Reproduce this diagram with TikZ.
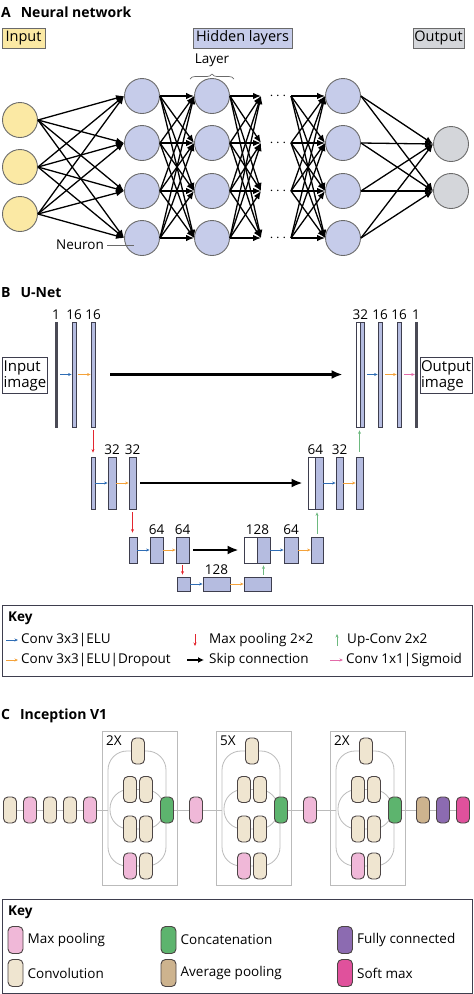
\documentclass[tikz,border=0pt]{standalone}
\usepackage{fontspec}
\setmainfont{Open Sans}
\usepackage{tikz}
\usetikzlibrary{arrows.meta,decorations.pathreplacing,backgrounds}
\definecolor{inyel}{HTML}{FBE9A4}
\definecolor{hidlav}{HTML}{C6CCEA}
\definecolor{outgray}{HTML}{D4D6DA}
\definecolor{ringgray}{HTML}{6A6A6A}
\definecolor{barlav}{HTML}{B5BCE0}
\definecolor{barline}{HTML}{3E3E4E}
\definecolor{bardark}{HTML}{4A4A55}
\definecolor{ablue}{HTML}{2F6DB5}
\definecolor{aorange}{HTML}{F4A23A}
\definecolor{ared}{HTML}{E3262F}
\definecolor{agreen}{HTML}{6DB97F}
\definecolor{apink}{HTML}{E36BA9}
\definecolor{mpink}{HTML}{F0B8D8}
\definecolor{convb}{HTML}{EFE5D0}
\definecolor{ccgreen}{HTML}{5DB46E}
\definecolor{avgb}{HTML}{CDB38E}
\definecolor{fcpur}{HTML}{8C6BB1}
\definecolor{smpink}{HTML}{E0519C}
\definecolor{blkline}{HTML}{4C4545}
\definecolor{modgray}{HTML}{BBBBBB}

\begin{document}
\begin{tikzpicture}[x=1pt,y=-1pt,
    every node/.style={font=\fontsize{13.5}{15}\selectfont},
    head/.style={anchor=west, inner sep=0pt, font=\fontsize{14}{16}\selectfont\bfseries},
    neu/.style={circle, draw=ringgray, line width=0.9pt, minimum size=35pt, inner sep=0pt},
    inp/.style={neu, fill=inyel}, hid/.style={neu, fill=hidlav}, outn/.style={neu, fill=outgray},
    dots/.style={font=\fontsize{15}{15}\selectfont},
    nn/.style={-{Latex[length=8pt,width=6.5pt]}, line width=1.3pt},
    tag/.style={draw=ringgray, line width=0.8pt, minimum height=20pt, inner sep=1pt, font=\fontsize{14.5}{16}\selectfont},
    bar/.style={draw=barline, fill=barlav, line width=0.8pt, inner sep=0pt},
    hole/.style={bar, fill=white},
    thinbar/.style={fill=bardark, draw=bardark, inner sep=0pt, minimum width=2pt},
    num/.style={anchor=south, inner sep=2pt},
    imgbox/.style={draw=barline, line width=0.8pt, minimum height=36pt, inner sep=1pt, align=left, font=\fontsize{15}{16}\selectfont},
    sm/.style={-{Stealth[length=3.5pt,width=3pt]}, line width=0.9pt},
    skip/.style={-{Latex[length=11pt,width=9pt]}, line width=2.4pt},
    keytxt/.style={anchor=west, inner sep=0pt},
    blk/.style={draw=blkline, line width=0.9pt, rounded corners=4.5pt, minimum width=13pt, minimum height=26pt, inner sep=0pt},
    gline/.style={draw=modgray, line width=0.8pt}]
\useasboundingbox (0,0) rectangle (474,994);

% ---------- A: neural network
\node[head] at (1,12) {A\hspace{10pt}Neural network};
\node[tag, fill=inyel, minimum width=43pt] (tin) at (23.5,38) {Input};
\node[tag, fill=hidlav, minimum width=99pt] (thid) at (242.5,38) {Hidden layers};
\node[tag, fill=outgray, minimum width=51pt] (tout) at (438.5,38) {Output};
\node (lay) at (212,60) {Layer};
\draw[ringgray, line width=0.7pt, decorate, decoration={brace, amplitude=5pt}] (190,79) -- (234,79);

\foreach \y [count=\i] in {120,167,214} \node[inp] (i\i) at (20,\y) {};
\foreach \y [count=\i] in {96,143,191,238} {
    \node[hid] (a\i) at (142,\y) {};
    \node[hid] (b\i) at (212,\y) {};
    \node[hid] (c\i) at (343,\y) {};
    \node[dots] (d\i) at (278,\y) {$\cdots$};
    \coordinate (e\i) at (261,\y);
    \coordinate (f\i) at (291,\y);
}
\foreach \y [count=\i] in {144,191} \node[outn] (o\i) at (451,\y) {};

\foreach \i in {1,2,3} \foreach \j in {1,...,4} \draw[nn] (i\i.east) -- (a\j.west);
\foreach \i in {1,...,4} \foreach \j in {1,...,4} {
    \draw[nn] (a\i.east) -- (b\j.west);
    \draw[nn] (b\i.east) -- (e\j);
    \draw[nn] (f\i) -- (c\j.west);
}
\foreach \i in {1,...,4} \foreach \j in {1,2} \draw[nn] (c\i.east) -- (o\j.west);

\node[anchor=east, inner sep=0pt] (neuron) at (104,245) {Neuron};
\coordinate (nrn) at (134,245);
\draw[ringgray, line width=0.6pt] (neuron.east) ++(3,0) -- (nrn);

% ---------- B: U-Net
\node[head] at (1,293) {B\hspace{10pt}U-Net};
\node[imgbox, minimum width=44pt] (inimg) at (25,375.5) {Input\\image};
\node[imgbox, minimum width=50pt] (outimg) at (446,375.5) {Output\\image};

% level 1
\node[thinbar, minimum height=105pt] (u0) at (56,374.5) {};
\node[bar, minimum width=4pt, minimum height=105pt] (u1) at (74,374.5) {};
\node[bar, minimum width=4pt, minimum height=105pt] (u2) at (93,374.5) {};
\node[hole, minimum width=4pt, minimum height=105pt] (r0a) at (358,374.5) {};
\node[bar, minimum width=4pt, minimum height=105pt] (r0b) at (362,374.5) {};
\node[bar, minimum width=4pt, minimum height=105pt] (r1) at (380,374.5) {};
\node[bar, minimum width=4pt, minimum height=105pt] (r2) at (399,374.5) {};
\node[thinbar, minimum height=105pt] (r3) at (416,374.5) {};
% level 2
\node[bar, minimum width=4pt, minimum height=52pt] (m0) at (93,483) {};
\node[bar, minimum width=8pt, minimum height=52pt] (m1) at (112,483) {};
\node[bar, minimum width=7pt, minimum height=52pt] (m2) at (132.5,483) {};
\node[hole, minimum width=7pt, minimum height=52pt] (n0a) at (311.5,483) {};
\node[bar, minimum width=8pt, minimum height=52pt] (n0b) at (319,483) {};
\node[bar, minimum width=7pt, minimum height=52pt] (n1) at (339.5,483) {};
\node[bar, minimum width=7pt, minimum height=52pt] (n2) at (359.5,483) {};
% level 3
\node[bar, minimum width=8pt, minimum height=26pt] (l0) at (133,550) {};
\node[bar, minimum width=13pt, minimum height=26pt] (l1) at (156.5,550) {};
\node[bar, minimum width=13pt, minimum height=26pt] (l2) at (182.5,550) {};
\node[hole, minimum width=13pt, minimum height=26pt] (q0a) at (250.5,550) {};
\node[bar, minimum width=13pt, minimum height=26pt] (q0b) at (263.5,550) {};
\node[bar, minimum width=14pt, minimum height=26pt] (q1) at (291,550) {};
\node[bar, minimum width=12pt, minimum height=26pt] (q2) at (317,550) {};
% level 4
\node[bar, minimum width=13pt, minimum height=14pt] (b0) at (183.5,584) {};
\node[bar, minimum width=27pt, minimum height=14pt] (b1) at (216.5,584) {};
\node[bar, minimum width=27pt, minimum height=14pt] (b2) at (257.5,584) {};

% sizes
\node[num] at (u0.north) {1};
\node[num] at (u1.north) {16};
\node[num] at (u2.north) {16};
\node[num] at (r0a.north east) {32};
\node[num] at (r1.north) {16};
\node[num] at (r2.north) {16};
\node[num] at (r3.north) {1};
\node[num] at (m1.north) {32};
\node[num] at (m2.north) {32};
\node[num] at (n0a.north east) {64};
\node[num] at (n1.north) {32};
\node[num] at (l1.north) {64};
\node[num] at (l2.north) {64};
\node[num] at (q0a.north east) {128};
\node[num] at (q1.north) {64};
\node[num] at (b1.north) {128};

% arrows
\draw[sm, ablue, shorten <=3pt] (u0) -- (u1);
\draw[sm, aorange, shorten <=2pt] (u1) -- (u2);
\draw[skip, shorten <=15pt, shorten >=13pt] (u2) -- (r0a);
\draw[sm, ablue, shorten <=3pt] (r0b) -- (r1);
\draw[sm, aorange, shorten <=3pt] (r1) -- (r2);
\draw[sm, apink, shorten <=3pt] (r2) -- (r3);
\draw[sm, ared, shorten <=3pt, shorten >=4pt] (u2.south) -- (m0.north);
\draw[sm, ablue] (m0) -- (m1);
\draw[sm, aorange] (m1) -- (m2);
\draw[skip, shorten <=4pt, shorten >=5pt] (m2) -- (n0a);
\draw[sm, ablue] (n0b) -- (n1);
\draw[sm, aorange] (n1) -- (n2);
\draw[sm, agreen, shorten <=5pt, shorten >=3pt] (n2.north) -- (n2.north |- r0b.south);
\draw[sm, ared, shorten <=3pt, shorten >=4pt] (m2.south) -- (m2.south |- l0.north);
\draw[sm, ablue] (l0) -- (l1);
\draw[sm, aorange] (l1) -- (l2);
\draw[skip, shorten <=4pt, shorten >=5pt] (l2) -- (q0a);
\draw[sm, ablue] (q0b) -- (q1);
\draw[sm, aorange] (q1) -- (q2);
\draw[sm, agreen, shorten <=3pt, shorten >=3pt] (q2.north) -- (q2.north |- n0b.south);
\draw[sm, ared, shorten <=2pt, shorten >=2pt] (l2.south) -- (l2.south |- b0.north);
\draw[sm, ablue] (b0) -- (b1);
\draw[sm, aorange] (b1) -- (b2);
\draw[sm, agreen, shorten <=2pt, shorten >=2pt] (b2.north -| q0b.south) -- (q0b.south);

% key B
\draw[barline, line width=1pt] (2,605) rectangle (472,676);
\node[keytxt, font=\fontsize{13.5}{15}\selectfont\bfseries] at (8,618) {Key};
\node[keytxt] (kb1) at (21,640) {Conv 3x3|ELU};
\node[keytxt] (kb2) at (21,660) {Conv 3x3|ELU|Dropout};
\node[keytxt] (kb3) at (209,640) {Max pooling 2×2};
\node[keytxt] (kb4) at (209,660) {Skip connection};
\node[keytxt] (kb5) at (347,640) {Up-Conv 2x2};
\node[keytxt] (kb6) at (346,660) {Conv 1x1|Sigmoid};
\coordinate (kp1) at (6,640);
\coordinate (kp2) at (6,660);
\coordinate (kp3) at (195,634);
\coordinate (kp4) at (187,660);
\coordinate (kp5) at (337,646);
\coordinate (kp6) at (330,660);
\draw[sm, ablue, shorten >=3pt] (kp1) -- (kb1.west);
\draw[sm, aorange, shorten >=3pt] (kp2) -- (kb2.west);
\draw[sm, ared] (kp3) -- ++(0,12);
\draw[-{Latex[length=6pt,width=6pt]}, line width=1.6pt, shorten >=5pt] (kp4) -- (kb4.west);
\draw[sm, agreen] (kp5) -- ++(0,-12);
\draw[sm, apink, shorten >=3pt] (kp6) -- (kb6.west);

% ---------- C: Inception V1
\node[head] at (1,716) {C\hspace{10pt}Inception V1};

\foreach \x/\t [count=\i] in {10/convb,30/mpink,50/convb,70/convb,90/mpink}
    \node[blk, fill=\t] (c\i) at (\x,810) {};
\node[blk, fill=mpink] (p1) at (196,810) {};
\node[blk, fill=mpink] (p2) at (310,810) {};
\node[blk, fill=avgb] (s1) at (423,810) {};
\node[blk, fill=fcpur] (s2) at (443,810) {};
\node[blk, fill=smpink] (s3) at (463,810) {};

\foreach \L/\r [count=\n] in {102/2X,216/5X,330/2X} {
  \begin{scope}[xshift=\L pt]
    \draw[gline] (0,731) rectangle (75,885);
    \node[anchor=west, inner sep=0pt] at (4,741) {\r};
    \draw[gline, rounded corners=19pt] (6,751) rectangle (64,866);
    \draw[gline, rounded corners=19pt] (8,789.5) rectangle (62,829);
    \coordinate (e\n) at (6,810);
    \node[blk, fill=convb] (t\n) at (36,751) {};
    \node[blk, fill=convb] (x\n) at (28,789.5) {};
    \node[blk, fill=convb] (y\n) at (44,789.5) {};
    \node[blk, fill=convb] (z\n) at (28,829) {};
    \node[blk, fill=convb] (w\n) at (44,829) {};
    \node[blk, fill=mpink] (v\n) at (28,866) {};
    \node[blk, fill=convb] (u\n) at (44,866) {};
    \node[blk, fill=ccgreen] (g\n) at (65,810) {};
  \end{scope}
}
\begin{pgfonlayer}{background}
  \draw[gline] (c1) -- (e1);
  \draw[gline] (g1) -- (e2);
  \draw[gline] (g2) -- (e3);
  \draw[gline] (g3) -- (s3);
\end{pgfonlayer}

% key C
\draw[barline, line width=1pt] (2,899) rectangle (472,993);
\node[keytxt, font=\fontsize{13.5}{15}\selectfont\bfseries] at (8,912) {Key};
\foreach \x/\y/\t/\s [count=\k] in {15.5/940/mpink/Max pooling, 15.5/973/convb/Convolution,
    168.5/940/ccgreen/Concatenation, 168.5/973/avgb/Average pooling,
    345/940/fcpur/Fully connected, 345/973/smpink/Soft max} {
  \node[blk, fill=\t, minimum width=15pt, minimum height=27pt] (kc\k) at (\x,\y) {};
  \node[keytxt, right=4pt] at (kc\k.east) {\s};
}
\end{tikzpicture}
\end{document}
